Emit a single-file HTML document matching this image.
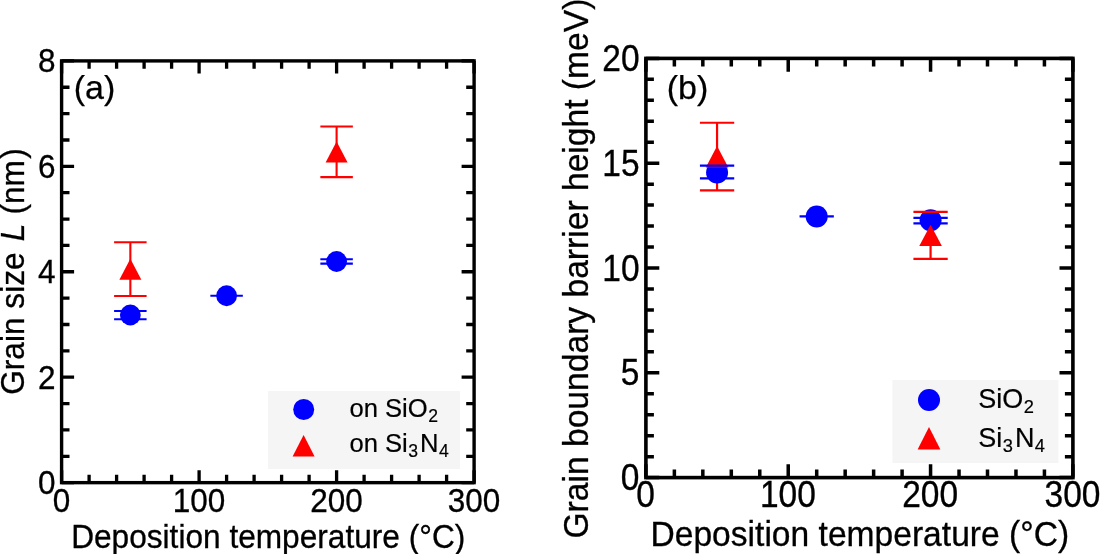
<!DOCTYPE html>
<html lang="en"><head><meta charset="utf-8"><title>Grain size and barrier height</title>
<style>html,body{margin:0;padding:0;background:#fff}svg{display:block}</style></head>
<body>
<svg width="1100" height="554" viewBox="0 0 1100 554">
<rect width="1100" height="554" fill="#fff"/>
<g id="panel-a">
<rect x="268" y="391" width="192" height="78" fill="#f5f5f5"/>
<rect x="61.6" y="60.9" width="412.5" height="421.75" fill="none" stroke="#000" stroke-width="3.4"/>
<path d="M61.6 482.65v-12.5M61.6 60.9v12.5M89.1 482.65v-7.9M89.1 60.9v7.9M116.6 482.65v-7.9M116.6 60.9v7.9M144.1 482.65v-7.9M144.1 60.9v7.9M171.6 482.65v-7.9M171.6 60.9v7.9M199.1 482.65v-12.5M199.1 60.9v12.5M226.6 482.65v-7.9M226.6 60.9v7.9M254.1 482.65v-7.9M254.1 60.9v7.9M281.6 482.65v-7.9M281.6 60.9v7.9M309.1 482.65v-7.9M309.1 60.9v7.9M336.6 482.65v-12.5M336.6 60.9v12.5M364.1 482.65v-7.9M364.1 60.9v7.9M391.6 482.65v-7.9M391.6 60.9v7.9M419.1 482.65v-7.9M419.1 60.9v7.9M446.6 482.65v-7.9M446.6 60.9v7.9M474.1 482.65v-12.5M474.1 60.9v12.5M61.6 482.65h12.5M474.1 482.65h-12.5M61.6 456.29h7.9M474.1 456.29h-7.9M61.6 429.93h7.9M474.1 429.93h-7.9M61.6 403.57h7.9M474.1 403.57h-7.9M61.6 377.21h12.5M474.1 377.21h-12.5M61.6 350.85h7.9M474.1 350.85h-7.9M61.6 324.49h7.9M474.1 324.49h-7.9M61.6 298.13h7.9M474.1 298.13h-7.9M61.6 271.77h12.5M474.1 271.77h-12.5M61.6 245.42h7.9M474.1 245.42h-7.9M61.6 219.06h7.9M474.1 219.06h-7.9M61.6 192.7h7.9M474.1 192.7h-7.9M61.6 166.34h12.5M474.1 166.34h-12.5M61.6 139.98h7.9M474.1 139.98h-7.9M61.6 113.62h7.9M474.1 113.62h-7.9M61.6 87.26h7.9M474.1 87.26h-7.9M61.6 60.9h12.5M474.1 60.9h-12.5" fill="none" stroke="#000" stroke-width="3.3"/>
<g font-family="Liberation Sans, Arial, Helvetica, sans-serif" font-size="31.5" fill="#000" stroke="#000" stroke-width="0.3">
<text transform="translate(61.6 511.5) scale(1 1.03)" text-anchor="middle">0</text>
<text transform="translate(199.1 511.5) scale(1 1.03)" text-anchor="middle">100</text>
<text transform="translate(336.6 511.5) scale(1 1.03)" text-anchor="middle">200</text>
<text transform="translate(474.1 511.5) scale(1 1.03)" text-anchor="middle">300</text>
<text transform="translate(55.5 494.05) scale(1 1.03)" text-anchor="end">0</text>
<text transform="translate(55.5 388.61) scale(1 1.03)" text-anchor="end">2</text>
<text transform="translate(55.5 283.17) scale(1 1.03)" text-anchor="end">4</text>
<text transform="translate(55.5 177.74) scale(1 1.03)" text-anchor="end">6</text>
<text transform="translate(55.5 72.3) scale(1 1.03)" text-anchor="end">8</text>
<text transform="translate(268.2 547.8) scale(1 1.035)" font-size="31.65" text-anchor="middle">Deposition temperature (°C)</text>
<text transform="translate(24.4 394.8) rotate(-90) scale(1 1.035)" font-size="31.65" text-anchor="start">Grain size <tspan font-style="italic" dx="2.5">L</tspan><tspan dx="0.2"> (nm</tspan><tspan dx="1.2">)</tspan></text>
</g>
<text x="73.7" y="99.3" font-family="Liberation Sans, Arial, Helvetica, sans-serif" font-size="34" fill="#000" stroke="#000" stroke-width="0.25">(a)</text>
<path d="M130.35 242.25V296.03M336.6 126.53V177.14" stroke="#ff0000" stroke-width="2.1" fill="none"/>
<circle cx="130.35" cy="315" r="10.4" fill="#0000ff"/>
<circle cx="226.6" cy="295.76" r="10.4" fill="#0000ff"/>
<circle cx="336.6" cy="261.49" r="10.4" fill="#0000ff"/>
<path d="M130.35 258.64L141.35 279.64H119.35Z" fill="#ff0000"/>
<path d="M336.6 141.6L347.6 162.6H325.6Z" fill="#ff0000"/>
<path d="M114.1 242.25h32.5M114.1 296.03h32.5M320.35 126.53h32.5M320.35 177.14h32.5" stroke="#ff0000" stroke-width="2.1" fill="none"/>
<path d="M114.1 311.05h32.5M114.1 319.22h32.5M210.35 295.76h32.5M210.35 295.76h32.5M320.35 259.28h32.5M320.35 263.6h32.5" stroke="#0000ff" stroke-width="2.1" fill="none"/>
<circle cx="303.7" cy="409.5" r="10.5" fill="#0000ff"/>
<path d="M303.6 435L314.6 456.4H292.6Z" fill="#ff0000"/>
<text transform="translate(349.4 417) scale(1 1.04)" font-family="Liberation Sans, Arial, Helvetica, sans-serif" font-size="25.6" fill="#000" stroke="#000" stroke-width="0.2"><tspan dx="0">on SiO</tspan><tspan dx="0.5" dy="4.7" font-size="17.6">2</tspan></text>
<text transform="translate(349.4 452.4) scale(1 1.04)" font-family="Liberation Sans, Arial, Helvetica, sans-serif" font-size="25.6" fill="#000" stroke="#000" stroke-width="0.2"><tspan dx="0">on Si</tspan><tspan dx="0.5" dy="4.7" font-size="17.6">3</tspan><tspan dx="2" dy="-4.7">N</tspan><tspan dx="0.5" dy="4.7" font-size="17.6">4</tspan></text>
</g>
<g id="panel-b">
<rect x="892.4" y="380" width="166" height="83" fill="#f5f5f5"/>
<rect x="645.9" y="58.4" width="427" height="419.2" fill="none" stroke="#000" stroke-width="3.6"/>
<path d="M645.9 477.6v-13.4M645.9 58.4v13.4M674.37 477.6v-8M674.37 58.4v8M702.83 477.6v-8M702.83 58.4v8M731.3 477.6v-8M731.3 58.4v8M759.77 477.6v-8M759.77 58.4v8M788.23 477.6v-13.4M788.23 58.4v13.4M816.7 477.6v-8M816.7 58.4v8M845.17 477.6v-8M845.17 58.4v8M873.63 477.6v-8M873.63 58.4v8M902.1 477.6v-8M902.1 58.4v8M930.57 477.6v-13.4M930.57 58.4v13.4M959.03 477.6v-8M959.03 58.4v8M987.5 477.6v-8M987.5 58.4v8M1015.97 477.6v-8M1015.97 58.4v8M1044.43 477.6v-8M1044.43 58.4v8M1072.9 477.6v-13.4M1072.9 58.4v13.4M645.9 477.6h13.4M1072.9 477.6h-13.4M645.9 456.64h8M1072.9 456.64h-8M645.9 435.68h8M1072.9 435.68h-8M645.9 414.72h8M1072.9 414.72h-8M645.9 393.76h8M1072.9 393.76h-8M645.9 372.8h13.4M1072.9 372.8h-13.4M645.9 351.84h8M1072.9 351.84h-8M645.9 330.88h8M1072.9 330.88h-8M645.9 309.92h8M1072.9 309.92h-8M645.9 288.96h8M1072.9 288.96h-8M645.9 268h13.4M1072.9 268h-13.4M645.9 247.04h8M1072.9 247.04h-8M645.9 226.08h8M1072.9 226.08h-8M645.9 205.12h8M1072.9 205.12h-8M645.9 184.16h8M1072.9 184.16h-8M645.9 163.2h13.4M1072.9 163.2h-13.4M645.9 142.24h8M1072.9 142.24h-8M645.9 121.28h8M1072.9 121.28h-8M645.9 100.32h8M1072.9 100.32h-8M645.9 79.36h8M1072.9 79.36h-8M645.9 58.4h13.4M1072.9 58.4h-13.4" fill="none" stroke="#000" stroke-width="3.5"/>
<g font-family="Liberation Sans, Arial, Helvetica, sans-serif" font-size="33.5" fill="#000" stroke="#000" stroke-width="0.3">
<text transform="translate(645.5 507.4) scale(1 1.09)" text-anchor="middle">0</text>
<text transform="translate(787.83 507.4) scale(1 1.09)" text-anchor="middle">100</text>
<text transform="translate(930.17 507.4) scale(1 1.09)" text-anchor="middle">200</text>
<text transform="translate(1072.5 507.4) scale(1 1.09)" text-anchor="middle">300</text>
<text transform="translate(639.5 490.1) scale(1 1.09)" text-anchor="end">0</text>
<text transform="translate(639.5 385.3) scale(1 1.09)" text-anchor="end">5</text>
<text transform="translate(639.5 280.5) scale(1 1.09)" text-anchor="end">10</text>
<text transform="translate(639.5 175.7) scale(1 1.09)" text-anchor="end">15</text>
<text transform="translate(639.5 70.9) scale(1 1.09)" text-anchor="end">20</text>
<text transform="translate(859.8 545.8) scale(1 1.035)" font-size="33.6" text-anchor="middle">Deposition temperature (°C)</text>
<text transform="translate(588 268.6) rotate(-90) scale(1 1.035)" font-size="33.62" text-anchor="middle">Grain boundary barrier height (meV)</text>
</g>
<text x="666.8" y="99.4" font-family="Liberation Sans, Arial, Helvetica, sans-serif" font-size="34" fill="#000" stroke="#000" stroke-width="0.25">(b)</text>
<path d="M717.07 122.75V190.45M930.57 211.93V258.78" stroke="#ff0000" stroke-width="2.2" fill="none"/>
<circle cx="717.07" cy="172.42" r="11" fill="#0000ff"/>
<circle cx="816.7" cy="216.44" r="11" fill="#0000ff"/>
<circle cx="930.57" cy="220.21" r="11" fill="#0000ff"/>
<path d="M717.07 146L728.37 167.4H705.77Z" fill="#ff0000"/>
<path d="M930.57 224.71L941.87 246.11H919.27Z" fill="#ff0000"/>
<path d="M699.92 122.75h34.3M699.92 190.45h34.3M913.42 211.93h34.3M913.42 258.78h34.3" stroke="#ff0000" stroke-width="2.2" fill="none"/>
<path d="M699.92 165.61h34.3M699.92 178.4h34.3M799.55 216.44h34.3M799.55 216.44h34.3M913.42 217.8h34.3M913.42 223.46h34.3" stroke="#0000ff" stroke-width="2.2" fill="none"/>
<circle cx="929" cy="400" r="11" fill="#0000ff"/>
<path d="M929 427L940.4 449.4H917.6Z" fill="#ff0000"/>
<text transform="translate(978.2 408) scale(1 1.04)" font-family="Liberation Sans, Arial, Helvetica, sans-serif" font-size="27.0" fill="#000" stroke="#000" stroke-width="0.2"><tspan dx="0">SiO</tspan><tspan dx="0.5" dy="5" font-size="18.3">2</tspan></text>
<text transform="translate(978.2 446.6) scale(1 1.04)" font-family="Liberation Sans, Arial, Helvetica, sans-serif" font-size="27.0" fill="#000" stroke="#000" stroke-width="0.2"><tspan dx="0">Si</tspan><tspan dx="0.5" dy="5" font-size="18.3">3</tspan><tspan dx="2" dy="-5">N</tspan><tspan dx="0.5" dy="5" font-size="18.3">4</tspan></text>
</g>
</svg>
</body></html>
